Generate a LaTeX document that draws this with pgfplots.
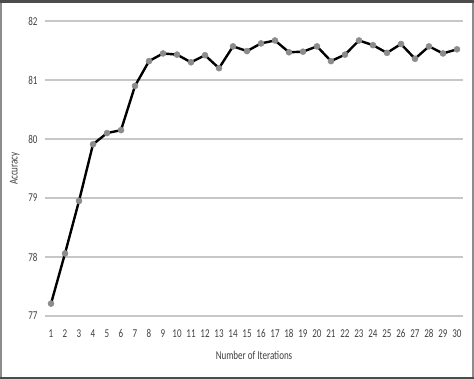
\documentclass[border=0pt]{standalone}
\usepackage{pgfplots}
\pgfplotsset{compat=1.18}
\usepackage{fontspec}
\setmainfont{Carlito}
\newfontfamily\narrowfont[FakeStretch=0.75]{Carlito}
\begin{document}
\begin{tikzpicture}[x=1pt,y=1pt]
\useasboundingbox (-45,-63) rectangle (429,316);
\fill[white] (-45,-63) rectangle (429,316);
\begin{axis}[
  at={(0,0)}, anchor=south west,
  scale only axis, width=418pt, height=295pt,
  xmin=0.57, xmax=30.43, ymin=77, ymax=82,
  axis line style={draw=none},
  ymajorgrids, grid style={line width=1.2pt, color=black!22},
  xtick={1,...,30}, ytick={77,78,79,80,81,82},
  major tick length=0pt,
  /pgf/number format/assume math mode=true,
  tick label style={font=\narrowfont\fontsize{12}{12}\selectfont, text=black!75},
  xticklabel style={yshift=-10pt},
  yticklabel style={xshift=-4pt},
  xlabel={Number of Iterations}, ylabel={Accuracy},
  label style={font=\narrowfont\fontsize{12}{12}\selectfont, text=black!75},
  xlabel style={yshift=-6pt},
  ylabel style={yshift=2pt},
  clip=false,
]
\addplot[black, line width=2.4pt, mark=*, mark size=3pt,
  mark options={fill=black!45, draw=black!45, line width=0.5pt}] coordinates {
(1,77.21) (2,78.06) (3,78.95) (4,79.91) (5,80.10) (6,80.15) (7,80.90)
(8,81.32) (9,81.45) (10,81.43) (11,81.30) (12,81.42) (13,81.20) (14,81.57)
(15,81.49) (16,81.62) (17,81.67) (18,81.47) (19,81.48) (20,81.57) (21,81.32)
(22,81.43) (23,81.67) (24,81.59) (25,81.46) (26,81.61) (27,81.36) (28,81.57)
(29,81.45) (30,81.52)
};
\end{axis}
\draw[black!45, line width=1.5pt] (-44,-62) rectangle (428,315);
\fill[black!70] (-45,313) rectangle (429,316);
\fill[black!70] (-45,-63) rectangle (429,-61);
\end{tikzpicture}
\end{document}
